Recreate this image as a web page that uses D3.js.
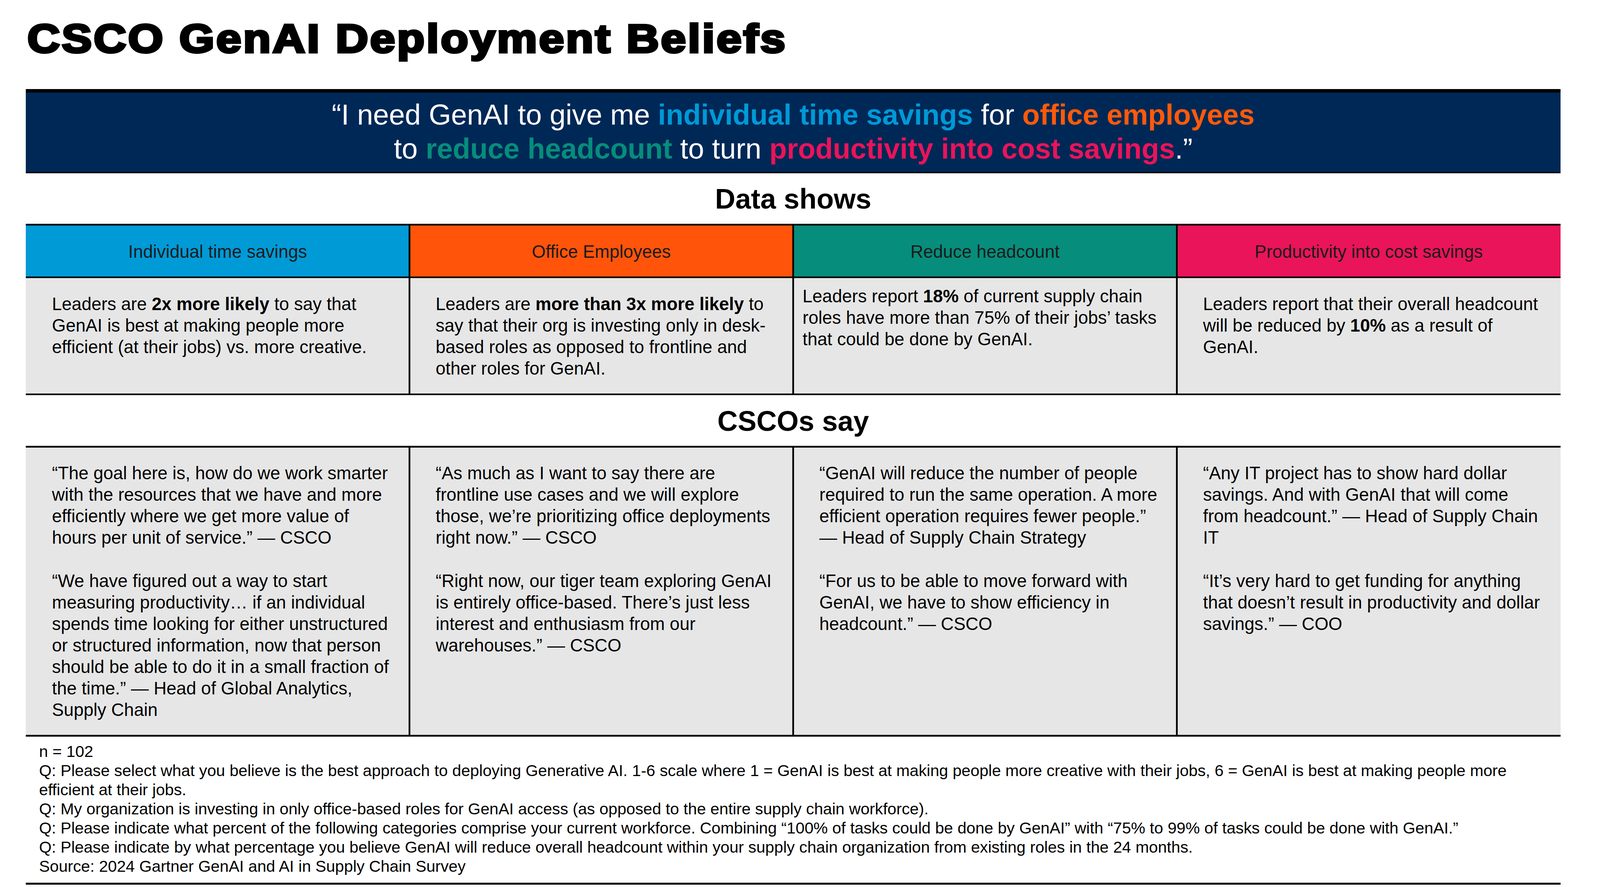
<!DOCTYPE html>
<html>
<head>
<meta charset="utf-8">
<script src="https://cdn.jsdelivr.net/npm/d3@7/dist/d3.min.js"></script>
<style>
  html, body { margin: 0; background: #fff; }
  svg { display: block; font-family: "Liberation Sans", Arial, sans-serif; }
</style>
</head>
<body>
<div id="chart"></div>
<script>
// ---------------------------------------------------------------------------//
// Content
// ---------------------------------------------------------------------------//
const chartTitle = "CSCO GenAI Deployment Beliefs";
const sectionTitles = ["Data shows", "CSCOs say"];

// Runs are [text, colour key or "", bold flag]
const bannerLines = [
  [["“I need GenAI to give me ", "", 0], ["individual time savings", "time", 1], [" for ", "", 0], ["office employees", "office", 1]],
  [["to ", "", 0], ["reduce headcount", "headcount", 1], [" to turn ", "", 0], ["productivity into cost savings", "cost", 1], [".”", "", 0]],
];

const columnKeys = ["time", "office", "headcount", "cost"];
const columnHeads = ["Individual time savings", "Office Employees", "Reduce headcount", "Productivity into cost savings"];
const columnColors = ["#009ad7", "#ff540a", "#068d7b", "#e9145a"];
const bannerColors = ["#0099d8", "#ff5a0a", "#068d7b", "#e9145a"];

const dataShows = [
  [[["Leaders are "], ["2x more likely", 1], [" to say that"]],
   [["GenAI is best at making people more"]],
   [["efficient (at their jobs) vs. more creative."]]],
  [[["Leaders are "], ["more than 3x more likely", 1], [" to"]],
   [["say that their org is investing only in desk-"]],
   [["based roles as opposed to frontline and"]],
   [["other roles for GenAI."]]],
  [[["Leaders report "], ["18%", 1], [" of current supply chain"]],
   [["roles have more than 75% of their jobs’ tasks"]],
   [["that could be done by GenAI."]]],
  [[["Leaders report that their overall headcount"]],
   [["will be reduced by "], ["10%", 1], [" as a result of"]],
   [["GenAI."]]],
];

const csco1 = [
  "“The goal here is, how do we work smarter",
  "with the resources that we have and more",
  "efficiently where we get more value of",
  "hours per unit of service.” — CSCO",
  "",
  "“We have figured out a way to start",
  "measuring productivity… if an individual",
  "spends time looking for either unstructured",
  "or structured information, now that person",
  "should be able to do it in a small fraction of",
  "the time.” — Head of Global Analytics,",
  "Supply Chain",
];
const csco2 = [
  "“As much as I want to say there are",
  "frontline use cases and we will explore",
  "those, we’re prioritizing office deployments",
  "right now.” — CSCO",
  "",
  "“Right now, our tiger team exploring GenAI",
  "is entirely office-based. There’s just less",
  "interest and enthusiasm from our",
  "warehouses.” — CSCO",
];
const csco3 = [
  "“GenAI will reduce the number of people",
  "required to run the same operation. A more",
  "efficient operation requires fewer people.”",
  "— Head of Supply Chain Strategy",
  "",
  "“For us to be able to move forward with",
  "GenAI, we have to show efficiency in",
  "headcount.” — CSCO",
];
const csco4 = [
  "“Any IT project has to show hard dollar",
  "savings. And with GenAI that will come",
  "from headcount.” — Head of Supply Chain",
  "IT",
  "",
  "“It’s very hard to get funding for anything",
  "that doesn’t result in productivity and dollar",
  "savings.” — COO",
];
const cscoQuotes = [csco1, csco2, csco3, csco4];

const footnotes = [
  "n = 102",
  "Q: Please select what you believe is the best approach to deploying Generative AI. 1-6 scale where 1 = GenAI is best at making people more creative with their jobs, 6 = GenAI is best at making people more",
  "efficient at their jobs.",
  "Q: My organization is investing in only office-based roles for GenAI access (as opposed to the entire supply chain workforce).",
  "Q: Please indicate what percent of the following categories comprise your current workforce. Combining “100% of tasks could be done by GenAI” with “75% to 99% of tasks could be done with GenAI.”",
  "Q: Please indicate by what percentage you believe GenAI will reduce overall headcount within your supply chain organization from existing roles in the 24 months.",
  "Source: 2024 Gartner GenAI and AI in Supply Chain Survey",
];

// ---------------------------------------------------------------------------//
// Layout
// ---------------------------------------------------------------------------//
const width = 4135;
const height = 2271;
const left = 66;
const right = 3995;
const bodySize = 45.5;
const linePitch = 55.1;

const NAVY = "#002856";
const GREY = "#e6e6e6";

const x = d3.scaleBand().domain(columnKeys).range([left, right]);
const color = d3.scaleOrdinal().domain(columnKeys).range(columnColors);
const bannerColor = d3.scaleOrdinal().domain(columnKeys).range(bannerColors);

const svg = d3.select("#chart").append("svg")
  .attr("width", width)
  .attr("height", height)
  .attr("viewBox", `0 0 ${width} ${height}`);

// ---------------------------------------------------------------------------//
// Helpers
// ---------------------------------------------------------------------------//
function hRule(y, h) {
  svg.append("rect").attr("x", left).attr("y", y).attr("width", right - left).attr("height", h).attr("fill", "#000");
}

function vRules(y0, y1) {
  svg.append("g").selectAll("rect")
    .data(columnKeys.slice(1))
    .join("rect")
    .attr("x", (d) => x(d) - 2.2)
    .attr("y", y0)
    .attr("width", 4.4)
    .attr("height", y1 - y0)
    .attr("fill", "#000");
}

function addText(str, px, py, size, opts = {}) {
  return svg.append("text")
    .attr("x", px)
    .attr("y", py)
    .attr("font-size", size)
    .attr("font-weight", opts.bold ? 700 : 400)
    .attr("text-anchor", opts.anchor || "start")
    .attr("fill", opts.fill || "#000")
    .text(str);
}

// ---------------------------------------------------------------------------//
// Title and banner
// ---------------------------------------------------------------------------//
// No Arial Black here, so widen and thicken the bold face instead.
addText(chartTitle, 0, 0, 101.5, { bold: true })
  .attr("transform", "translate(70,133.7) scale(1.138,1)")
  .attr("stroke", "#000")
  .attr("stroke-width", 6)
  .attr("letter-spacing", 4.1);

svg.append("rect").attr("x", left).attr("y", 232).attr("width", right - left).attr("height", 210).attr("fill", NAVY);
hRule(228, 9);
hRule(440, 3.6);

bannerLines.forEach((runs, i) => {
  const t = addText("", (left + right) / 2, [319, 406][i], 73.3, { anchor: "middle", fill: "#fff" });
  t.selectAll("tspan")
    .data(runs)
    .join("tspan")
    .attr("font-weight", (d) => (d[2] ? 700 : 400))
    .attr("fill", (d) => (d[1] ? bannerColor(d[1]) : "#fff"))
    .text((d) => d[0]);
});

// ---------------------------------------------------------------------------//
// Data shows
// ---------------------------------------------------------------------------//
addText(sectionTitles[0], (left + right) / 2, 534, 72, { bold: true, anchor: "middle" });

svg.append("g").selectAll("rect")
  .data(columnKeys)
  .join("rect")
  .attr("x", (d) => x(d))
  .attr("y", 575)
  .attr("width", x.bandwidth())
  .attr("height", 135)
  .attr("fill", (d) => color(d));

svg.append("g").selectAll("text")
  .data(columnKeys)
  .join("text")
  .attr("x", (d) => x(d) + x.bandwidth() / 2)
  .attr("y", 660)
  .attr("font-size", bodySize)
  .attr("text-anchor", "middle")
  .attr("fill", "#1a1a1a")
  .text((d, i) => columnHeads[i]);

svg.append("rect").attr("x", left).attr("y", 710).attr("width", right - left).attr("height", 300).attr("fill", GREY);
hRule(573, 4.4);
hRule(708, 4);
hRule(1007.6, 4);
vRules(575, 1010);

const dataInset = [67, 67, 24, 67];
const dataFirstBase = [794, 794, 774, 794];
dataShows.forEach((lines, c) => {
  lines.forEach((runs, l) => {
    const t = addText("", x(columnKeys[c]) + dataInset[c], dataFirstBase[c] + l * linePitch, bodySize);
    t.selectAll("tspan")
      .data(runs)
      .join("tspan")
      .attr("font-weight", (d) => (d[1] ? 700 : 400))
      .text((d) => d[0]);
  });
});

// ---------------------------------------------------------------------------//
// CSCOs say
// ---------------------------------------------------------------------------//
addText(sectionTitles[1], (left + right) / 2, 1103, 72, { bold: true, anchor: "middle" });

svg.append("rect").attr("x", left).attr("y", 1144).attr("width", right - left).attr("height", 740).attr("fill", GREY);
hRule(1141.5, 4.5);
hRule(1881.5, 4.5);
vRules(1143, 1884);

cscoQuotes.forEach((lines, c) => {
  lines.forEach((line, l) => {
    addText(line, x(columnKeys[c]) + 67, 1227 + l * linePitch, bodySize);
  });
});

// ---------------------------------------------------------------------------//
// Footnotes
// ---------------------------------------------------------------------------//
const noteY = d3.scalePoint().domain(d3.range(footnotes.length)).range([1938, 2232]);
footnotes.forEach((line, i) => {
  addText(line, 100, noteY(i), 41.2);
});
hRule(2260, 5);
</script>
</body>
</html>
